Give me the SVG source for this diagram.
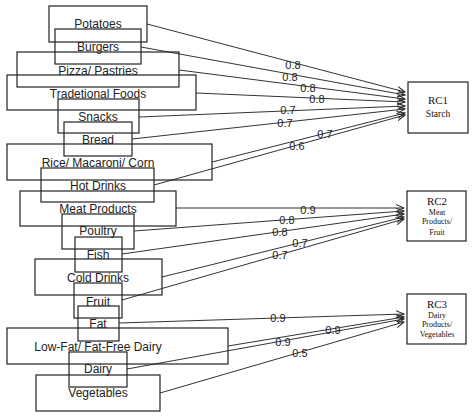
<svg xmlns="http://www.w3.org/2000/svg" width="474" height="417" viewBox="0 0 474 417">
<style>
.b{fill:none;stroke:#222;stroke-width:1.2}
.t{font-family:"Liberation Sans",Arial,sans-serif;font-size:12px;fill:#222;text-anchor:middle}
.l{font-family:"Liberation Sans",Arial,sans-serif;font-size:11px;fill:#222;text-anchor:middle}
.r{font-family:"Liberation Serif","Times New Roman",serif;fill:#111;text-anchor:middle}
.c line{stroke:#333;stroke-width:1}
</style>
<defs>
<marker id="a" markerUnits="userSpaceOnUse" markerWidth="10" markerHeight="8" refX="8" refY="4" orient="auto">
<path d="M0,0.5 L8,4 L0,7.5" fill="none" stroke="#222" stroke-width="1"/>
</marker>
</defs>
<rect width="474" height="417" fill="#fff"/>
<g class="c">
<line x1="147" y1="24" x2="405" y2="92" marker-end="url(#a)"/>
<line x1="141" y1="47" x2="405" y2="95" marker-end="url(#a)"/>
<line x1="179" y1="70" x2="405" y2="99" marker-end="url(#a)"/>
<line x1="196" y1="93" x2="405" y2="102" marker-end="url(#a)"/>
<line x1="139" y1="117" x2="405" y2="106" marker-end="url(#a)"/>
<line x1="132" y1="139" x2="405" y2="109" marker-end="url(#a)"/>
<line x1="212" y1="162" x2="405" y2="113" marker-end="url(#a)"/>
<line x1="154" y1="185" x2="405" y2="115" marker-end="url(#a)"/>
<line x1="176" y1="208" x2="404" y2="208" marker-end="url(#a)"/>
<line x1="134" y1="231" x2="404" y2="211" marker-end="url(#a)"/>
<line x1="122" y1="254" x2="404" y2="214" marker-end="url(#a)"/>
<line x1="162" y1="277" x2="404" y2="217" marker-end="url(#a)"/>
<line x1="122" y1="300" x2="404" y2="219" marker-end="url(#a)"/>
<line x1="119" y1="323" x2="404" y2="314" marker-end="url(#a)"/>
<line x1="228" y1="346" x2="404" y2="317" marker-end="url(#a)"/>
<line x1="127" y1="369" x2="404" y2="319" marker-end="url(#a)"/>
<line x1="160" y1="393" x2="404" y2="322" marker-end="url(#a)"/>
</g>
<g id="labels">
<text class="l" x="293" y="69">0.8</text>
<text class="l" x="290" y="81">0.8</text>
<text class="l" x="308" y="92">0.8</text>
<text class="l" x="317" y="103">0.8</text>
<text class="l" x="288" y="114">0.7</text>
<text class="l" x="285" y="127">0.7</text>
<text class="l" x="325" y="138">0.7</text>
<text class="l" x="297" y="150">0.6</text>
<text class="l" x="308" y="214">0.9</text>
<text class="l" x="287" y="224">0.8</text>
<text class="l" x="280" y="236">0.8</text>
<text class="l" x="300" y="247">0.7</text>
<text class="l" x="280" y="259">0.7</text>
<text class="l" x="278" y="322">0.9</text>
<text class="l" x="333" y="334">0.9</text>
<text class="l" x="283" y="346">0.9</text>
<text class="l" x="300" y="357">0.5</text>
</g>
<g id="potatoes"><rect class="b" x="49" y="6" width="98" height="36"/><text class="t" x="98" y="28">Potatoes</text></g>
<g id="burgers"><rect class="b" x="55" y="29" width="86" height="35"/><text class="t" x="98" y="51">Burgers</text></g>
<g id="pizza"><rect class="b" x="17" y="52" width="162" height="35"/><text class="t" x="98" y="75">Pizza/ Pastries</text></g>
<g id="tradetional"><rect class="b" x="7" y="75" width="189" height="35"/><text class="t" x="98" y="98">Tradetional Foods</text></g>
<g id="snacks"><rect class="b" x="58" y="99" width="81" height="34"/><text class="t" x="98" y="121">Snacks</text></g>
<g id="bread"><rect class="b" x="64" y="122" width="68" height="34"/><text class="t" x="98" y="144">Bread</text></g>
<g id="rice"><rect class="b" x="7" y="144" width="205" height="36"/><text class="t" x="98" y="167">Rice/ Macaroni/ Corn</text></g>
<g id="hotdrinks"><rect class="b" x="41" y="168" width="113" height="34"/><text class="t" x="98" y="190">Hot Drinks</text></g>
<g id="meat"><rect class="b" x="20" y="191" width="156" height="35"/><text class="t" x="98" y="213">Meat Products</text></g>
<g id="poultry"><rect class="b" x="62" y="214" width="72" height="35"/><text class="t" x="98" y="235">Poultry</text></g>
<g id="fish"><rect class="b" x="75" y="237" width="47" height="35"/><text class="t" x="98" y="259">Fish</text></g>
<g id="colddrinks"><rect class="b" x="35" y="259" width="127" height="36"/><text class="t" x="98" y="282">Cold Drinks</text></g>
<g id="fruit"><rect class="b" x="74" y="283" width="48" height="35"/><text class="t" x="98" y="306">Fruit</text></g>
<g id="fat"><rect class="b" x="78" y="306" width="41" height="35"/><text class="t" x="98" y="328">Fat</text></g>
<g id="lowfat"><rect class="b" x="7" y="328" width="221" height="36"/><text class="t" x="98" y="351">Low-Fat/ Fat-Free Dairy</text></g>
<g id="dairy"><rect class="b" x="69" y="352" width="58" height="35"/><text class="t" x="98" y="373">Dairy</text></g>
<g id="vegetables"><rect class="b" x="36" y="375" width="124" height="36"/><text class="t" x="98" y="397">Vegetables</text></g>
<g id="rc1"><rect class="b" x="408" y="82" width="60" height="51"/><text class="r" x="438" y="104" font-size="11">RC1</text><text class="r" x="438" y="117" font-size="9.5">Starch</text></g>
<g id="rc2"><rect class="b" x="407" y="191" width="59" height="50"/><text class="r" x="437" y="205" font-size="11">RC2</text><text class="r" x="437" y="215" font-size="8">Meat</text><text class="r" x="437" y="224" font-size="8">Products/</text><text class="r" x="437" y="235" font-size="8">Fruit</text></g>
<g id="rc3"><rect class="b" x="407" y="294" width="59" height="50"/><text class="r" x="437" y="308" font-size="11">RC3</text><text class="r" x="437" y="318" font-size="8">Dairy</text><text class="r" x="437" y="327" font-size="8">Products/</text><text class="r" x="437" y="337" font-size="8">Vegetables</text></g>
</svg>
